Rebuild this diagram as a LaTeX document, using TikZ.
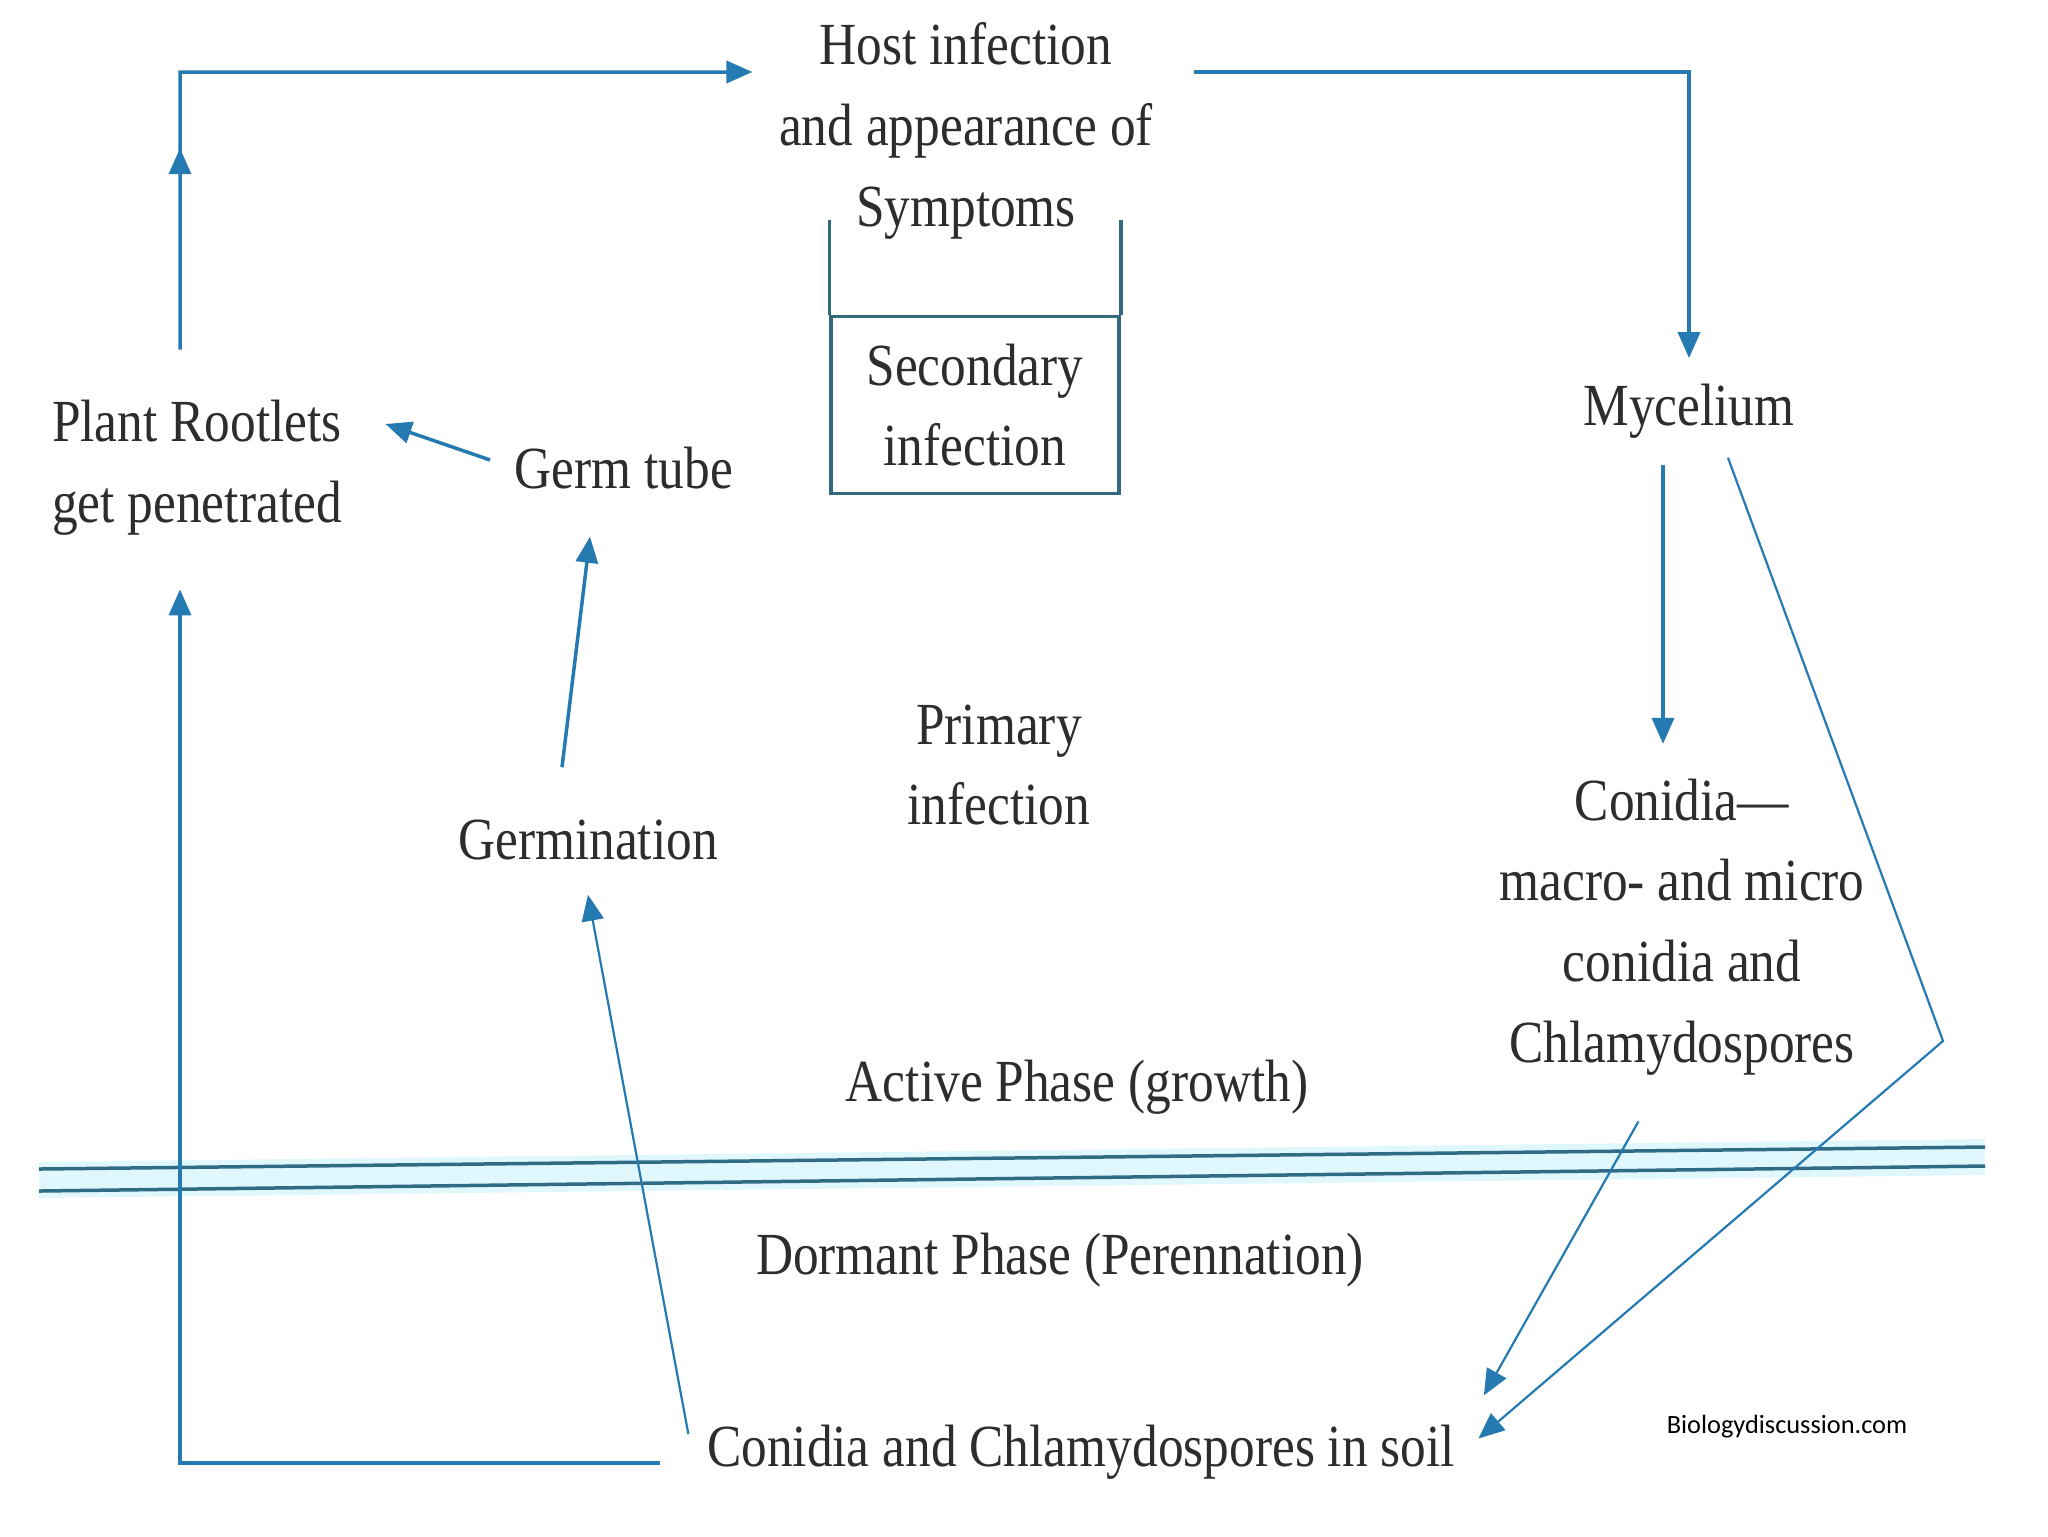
\documentclass[tikz,border=0pt]{standalone}
\usepackage{fontspec}
\setmainfont{Liberation Serif}[FakeStretch=0.86]
\newfontfamily\wmfont{Carlito}
\usetikzlibrary{arrows.meta,positioning,decorations.markings}
\definecolor{flow}{RGB}{38,122,178}
\definecolor{rim}{RGB}{52,104,124}
\definecolor{ink}{RGB}{45,45,45}
\definecolor{haze}{RGB}{224,247,253}
\tikzset{
  lbl/.style={font=\fontsize{17}{23}\selectfont,text=ink,align=center,inner sep=0pt},
  arr/.style={-{Triangle[length=2.6mm,width=2.2mm]},line width=0.35mm,draw=flow,color=flow},
  slim/.style={arr,line width=0.22mm},
  midarr/.style={postaction={decorate},decoration={markings,
      mark=at position #1 with {\arrow{Triangle[length=2.6mm,width=2.2mm]}}}},
  boxline/.style={draw=rim,line width=0.35mm},
  soilline/.style={draw=rim!80!flow,line width=0.35mm},
}
\begin{document}
\begin{tikzpicture}[x=0.1mm,y=-0.1mm]
  \useasboundingbox (0,0) rectangle (2048,1536);
  % active / dormant border
  \draw[haze,line width=3.6mm] (39,1180) -- (1985,1157);
  \draw[soilline] (39,1169) -- (1985,1147);
  \draw[soilline] (39,1191) -- (1985,1166);

  \node[lbl] (host) at (966,131) {Host infection\\and appearance of\\Symptoms};
  \node[lbl,boxline,minimum width=28.8mm,minimum height=17.7mm] (second) at (975,405) {Secondary\\infection};
  \node[lbl] (myc) at (1689,411) {Mycelium};
  \node[lbl] (conid) at (1682,927) {Conidia—\\macro- and micro\\conidia and\\Chlamydospores};
  \node[lbl] (soil) at (1081,1452) {Conidia and Chlamydospores in soil};
  \node[lbl] (germ) at (588,840) {Germination};
  \node[lbl] (tube) at (624,468) {Germ tube};
  \node[lbl] (roots) at (197,468) {Plant Rootlets\\get penetrated};
  \node[lbl] (primary) at (999,765) {Primary\\infection};
  \node[lbl] (active) at (1077,1087) {Active Phase (growth)};
  \node[lbl] (dormant) at (1060,1260) {Dormant Phase (Perennation)};
  \node[font=\wmfont\fontsize{7.5}{9}\selectfont,inner sep=0pt] (site) at (1787,1427) {Biologydiscussion.com};

  \draw[boxline] (second.north west) -- ++(0,-95);
  \draw[boxline] (second.north east) -- ++(0,-95);

  \coordinate (ctop) at (180,72);
  \coordinate (cbend) at (1943,1041);

  \draw[arr,midarr=0.23,shorten >=2.6mm] ([xshift=-1.7mm,yshift=5mm]roots.north) -- (ctop) -- (ctop -| host.west);
  \draw[arr,shorten <=4mm,shorten >=2.5mm] (ctop -| host.east) -| (myc.north);
  \draw[arr,shorten <=2.6mm,shorten >=3.4mm] ([xshift=-2.6mm]myc.south) -- ([xshift=-1.9mm]conid.north);
  \draw[slim,shorten <=2mm,shorten >=3mm] ([xshift=3.2mm]myc.south) -- (cbend) -- ([yshift=-0.6mm]soil.east);
  \draw[slim,shorten <=5.2mm,shorten >=3.3mm] ([xshift=-1.8mm]conid.south) -- ([xshift=1.2mm]soil.north east);
  \draw[arr,shorten <=4.6mm] ([yshift=-1.1mm]soil.west) -| ([xshift=-1.7mm,yshift=-5.3mm]roots.south);
  \draw[slim] ([xshift=-1.8mm,yshift=-1mm]soil.north west) -- ([yshift=-3.4mm]germ.south);
  \draw[arr] ([xshift=-2.6mm,yshift=5.2mm]germ.north) -- ([xshift=-3.4mm,yshift=-4.7mm]tube.south);
  \draw[arr] ([xshift=-2.4mm,yshift=0.8mm]tube.west) -- ([xshift=4.3mm,yshift=4.4mm]roots.east);
\end{tikzpicture}
\end{document}
